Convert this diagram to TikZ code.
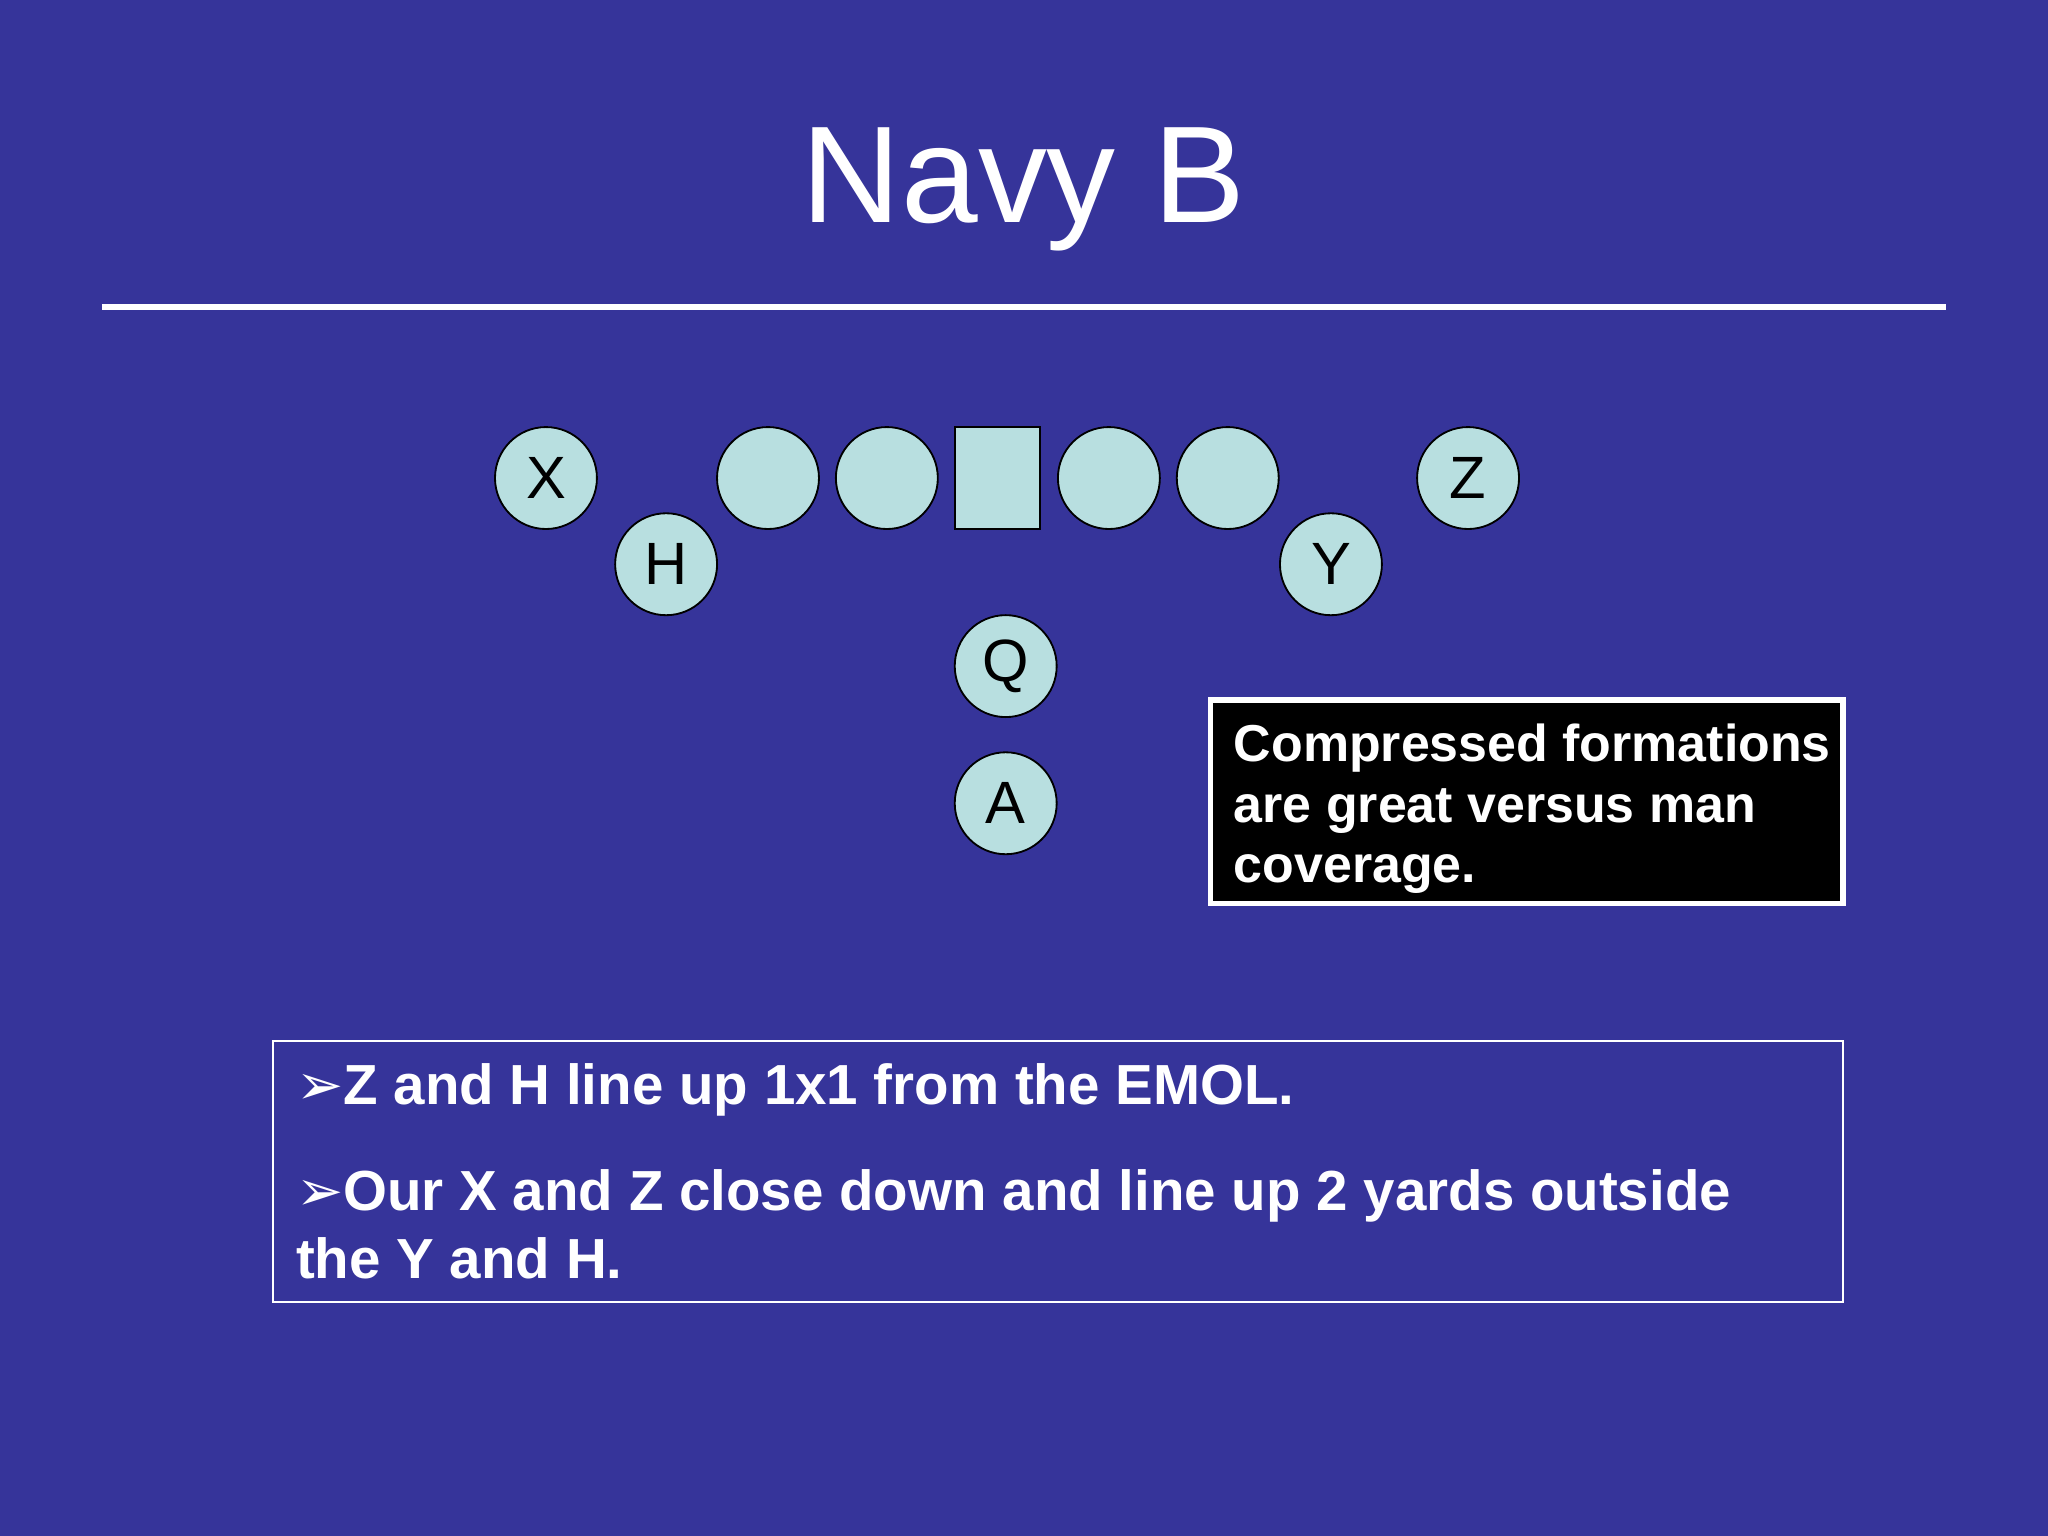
\documentclass[tikz,border=0pt]{standalone}
\usepackage{fontspec}
\setmainfont{Liberation Sans}
\newfontfamily\dingfont{DejaVu Sans}
\definecolor{navybg}{HTML}{36349A}
\definecolor{playerfill}{HTML}{B8DFE0}
\tikzset{
  player/.style={circle,draw=black,fill=playerfill,minimum size=0.78cm,inner sep=0pt,font=\fontsize{13pt}{13pt}\selectfont},
  center/.style={rectangle,draw=black,fill=playerfill,minimum width=0.65cm,minimum height=0.78cm,inner sep=0pt},
  note/.style={anchor=base west,text=white,inner sep=0pt,font=\bfseries\fontsize{11.3pt}{13pt}\selectfont},
  bullet/.style={anchor=base west,text=white,inner sep=0pt,font=\bfseries\fontsize{12.3pt}{14pt}\selectfont}
}
\newcommand{\pointer}{{\dingfont\mdseries\char"27A2}}
\begin{document}
\begin{tikzpicture}[x=0.01cm,y=-0.01cm]
\fill[navybg] (0,0) rectangle (1568,1176);
\useasboundingbox (0,0) rectangle (1568,1176);
% title
\node[text=white,font=\fontsize{30pt}{30pt}\selectfont] (title) at (784,145) {Navy B};
\draw[white,line width=0.04cm] (78,235) -- (1490,235);
% formation
\node[player] (x) at (418,366) {X};
\node[player] (h) at (510,432) {H};
\node[player] (lt) at (588,366) {};
\node[player] (lg) at (679,366) {};
\node[center] (c) at (764,366) {};
\node[player] (rg) at (849,366) {};
\node[player] (rt) at (940,366) {};
\node[player] (y) at (1019,432) {Y};
\node[player] (z) at (1124,366) {Z};
\node[player] (q) at (770,510) {Q};
\node[player] (a) at (770,615) {A};
% black note
\draw[white,fill=black,line width=0.04cm] (927,536) rectangle (1411,692);
\node[note] (n1) at (944,583) {Compressed formations};
\node[note] (n2) at (944,630) {are great versus man};
\node[note] (n3) at (944,676) {coverage.};
% bullets
\draw[white,line width=0.015cm] (209,797) rectangle (1411,997);
\node[bullet] (b1) at (226,846) {\pointer Z and H line up 1x1 from the EMOL.};
\node[bullet] (b2) at (226,927) {\pointer Our X and Z close down and line up 2 yards outside};
\node[bullet] (b3) at (226,979) {the Y and H.};
\end{tikzpicture}
\end{document}
